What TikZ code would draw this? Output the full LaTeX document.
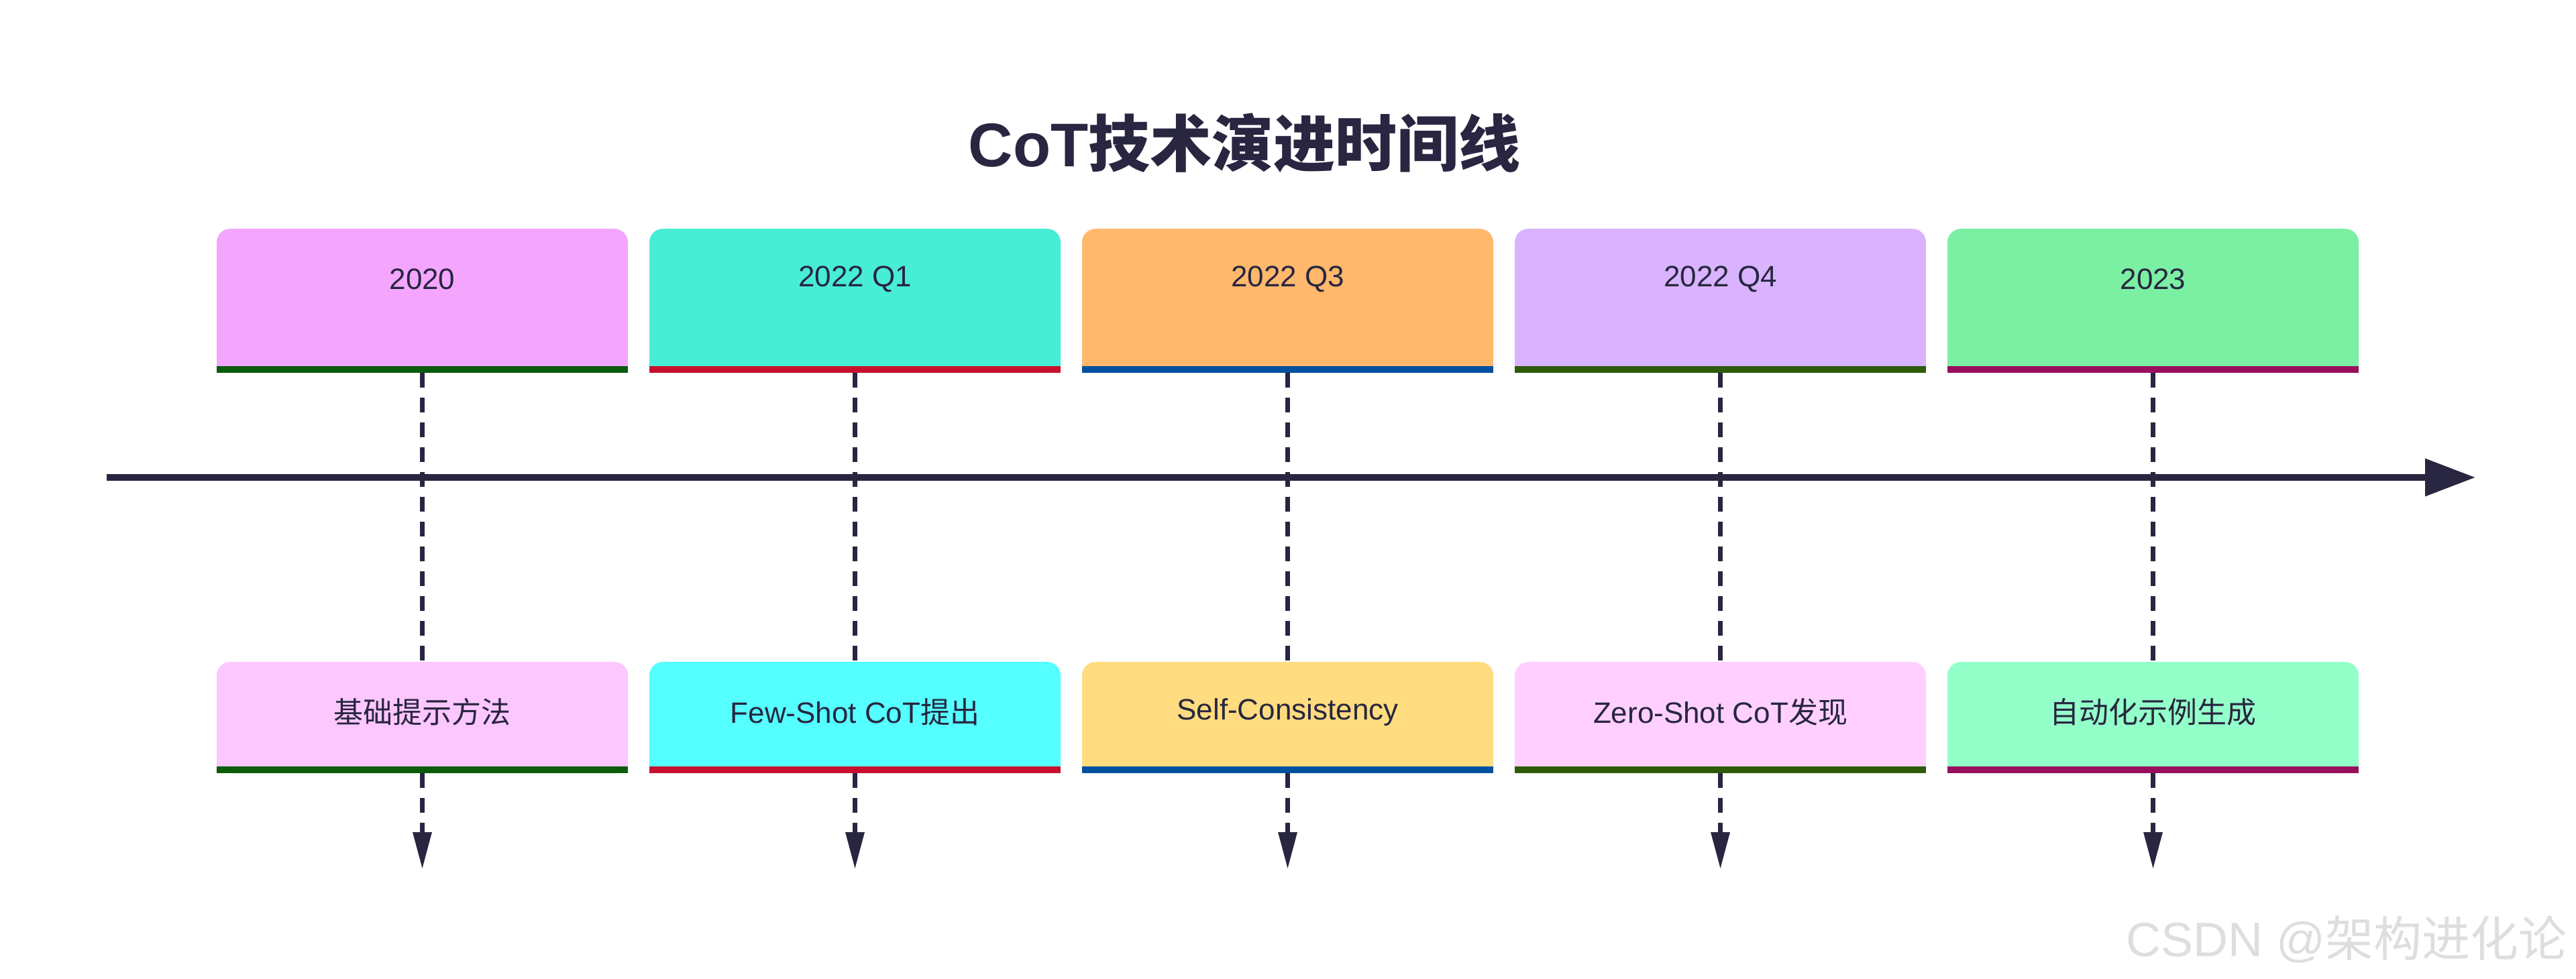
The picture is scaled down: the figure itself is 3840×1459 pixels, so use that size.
\documentclass[tikz,border=0pt]{standalone}
\usepackage{fontspec}
\setmainfont{Liberation Sans}
\newfontfamily\cjk{Noto Sans CJK SC}
\newfontfamily\cjkb{Noto Sans CJK SC Bold}
\usetikzlibrary{arrows.meta}
\definecolor{ink}{HTML}{282640}
\tikzset{
 topbox/.style={rectangle,rounded corners=20pt,minimum width=613pt,inner sep=0pt},
 lbl/.style={font=\fontsize{44}{52}\selectfont,text=ink},
 conn/.style={draw=ink,line width=6.5pt,dash pattern=on 22pt off 15pt},
}
\newcommand{\tlbox}[7]{% name, x, y, fill, band, text, height
 \node[topbox,minimum height=#7,fill=#4,anchor=north] (#1) at (#2,#3) {};
 \fill[#4] ([yshift=40pt]#1.south west) rectangle (#1.south east);
 \fill[#5] ([yshift=10pt]#1.south west) rectangle (#1.south east);
 \node[lbl] (#1t) at ([yshift=-75pt]#1.north) {#6};
}
\begin{document}
\begin{tikzpicture}[x=1pt,y=-1pt]
\useasboundingbox[fill=white] (0,0) rectangle (3840,1459);
\node[font=\fontsize{92}{100}\selectfont\bfseries,text=ink] (title) at (1855,213) {CoT{\cjkb 技术演进时间线}};
\coordinate (ax0) at (159,712);
\coordinate (ax1) at (3690,712);
\draw[ink,line width=10pt,-{Triangle[length=75pt,width=54pt]}] (ax0) -- (ax1);
\foreach \n/\x/\ct/\cb/\cl/\txt/\low in {
 a/629.5/F4A6FF/0B5B0B/FCC6FF/2020/{\cjk 基础提示方法},
 b/1274.5/48EDD6/C8102E/55FFFF/2022 Q1/Few-Shot CoT{\cjk 提出},
 c/1919.5/FFB86C/0050A0/FFDC7F/2022 Q3/Self-Consistency,
 d/2564.5/DAB3FF/2E5A0A/FFD0FF/2022 Q4/Zero-Shot CoT{\cjk 发现},
 e/3209.5/7BF0A3/990F5E/93FFC9/2023/{\cjk 自动化示例生成}}{
 \definecolor{ct}{HTML}{\ct}\definecolor{cb}{HTML}{\cb}\definecolor{cl}{HTML}{\cl}
 \tlbox{t\n}{\x}{341}{ct}{cb}{\txt}{215pt}
 \tlbox{l\n}{\x}{987}{cl}{cb}{\low}{166pt}
 \coordinate (e\n) at (\x,1296);
 \draw[conn] (t\n.south) -- (l\n.north);
 \draw[conn,-{Triangle[length=55pt,width=27pt]}] (l\n.south) -- (e\n);
}
\node[font=\fontsize{72}{80}\selectfont,text=black!13,anchor=south east] (wm) at (3830,1440) {CSDN @{\cjk 架构进化论}};
\end{tikzpicture}
\end{document}
